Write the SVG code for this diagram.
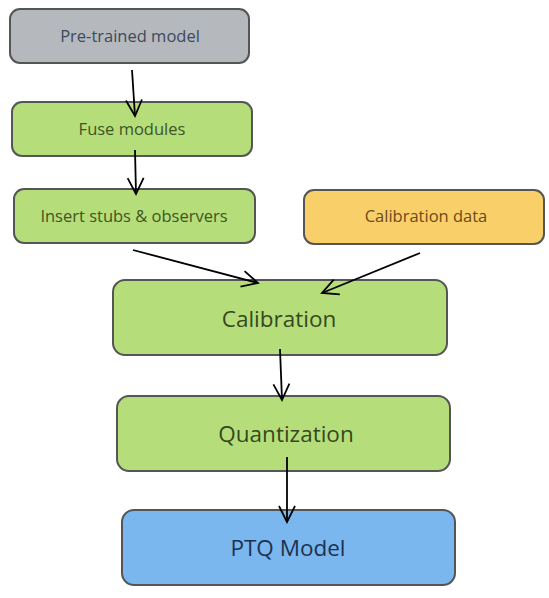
<svg xmlns="http://www.w3.org/2000/svg" width="549" height="598" viewBox="0 0 549 598">
<defs>
<style>
.box{stroke:#555;stroke-width:2}
.gray{fill:#b5b9bd}
.green{fill:#b5de7a}
.orange{fill:#f9cf6a}
.blue{fill:#79b7ee}
.t{font-family:"Open Sans","Noto Sans",sans-serif;text-anchor:middle;dominant-baseline:central}
.s{font-size:16.5px}
.l{font-size:22.5px}
.edge{stroke:#000;stroke-width:1.8;fill:none;marker-end:url(#ah)}
</style>
<marker id="ah" viewBox="0 0 20 20" refX="18" refY="10" markerWidth="20" markerHeight="20" markerUnits="userSpaceOnUse" orient="auto">
<path d="M2,2 L18,10 L2,18" fill="none" stroke="#000" stroke-width="1.8"/>
</marker>
</defs>
<g id="pretrained"><rect class="box gray" x="10" y="9" width="239" height="54" rx="10"/><text class="t s" x="130" y="35" fill="#3b4a5c">Pre-trained model</text></g>
<g id="fuse"><rect class="box green" x="12" y="102" width="240" height="54" rx="10"/><text class="t s" x="132" y="128" fill="#3e5524">Fuse modules</text></g>
<g id="insert"><rect class="box green" x="14" y="189" width="241" height="54" rx="10"/><text class="t s" x="134" y="215" fill="#3e5524">Insert stubs &amp; observers</text></g>
<g id="caldata"><rect class="box orange" x="304" y="190" width="240" height="54" rx="10"/><text class="t s" x="426" y="215" fill="#6b4a1c">Calibration data</text></g>
<g id="calibration"><rect class="box green" x="113" y="280" width="334" height="75" rx="12"/><text class="t l" x="279" y="318" fill="#36481f">Calibration</text></g>
<g id="quantization"><rect class="box green" x="117" y="396" width="333" height="75" rx="12"/><text class="t l" x="286" y="433" fill="#36481f">Quantization</text></g>
<g id="ptq"><rect class="box blue" x="122" y="510" width="333" height="75" rx="12"/><text class="t l" x="288" y="547" fill="#1e3150">PTQ Model</text></g>
<g id="connectors">
<path class="edge" d="M132,70 L135,116"/>
<path class="edge" d="M135,150 L136,194"/>
<path class="edge" d="M133,250 L258,283"/>
<path class="edge" d="M420,253 L322,293"/>
<path class="edge" d="M280,349 L282,400"/>
<path class="edge" d="M287,457 L287,522"/>
</g>
</svg>
